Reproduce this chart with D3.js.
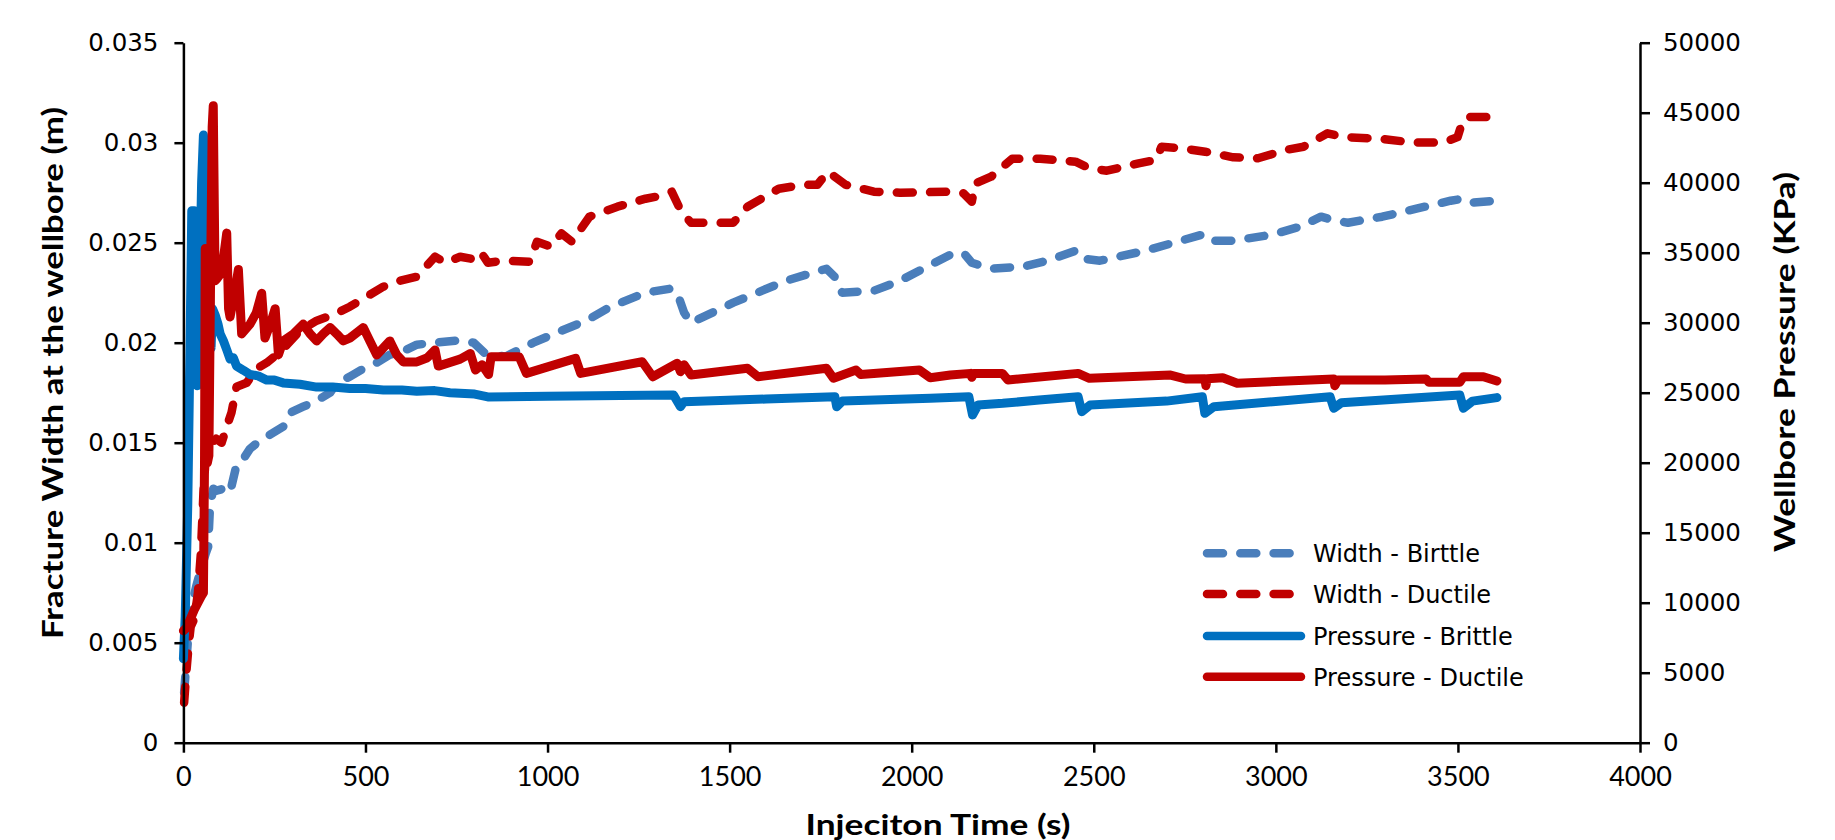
<!DOCTYPE html>
<html>
<head>
<meta charset="utf-8">
<script src="https://cdn.jsdelivr.net/npm/d3@7/dist/d3.min.js"></script>
<style>
  html, body { margin: 0; padding: 0; background: #ffffff; }
  svg { display: block; }
</style>
</head>
<body>
<svg id="chart" width="1835" height="840"></svg>
<script>
// ---------------- DATA ----------------
const xTicks = [0, 500, 1000, 1500, 2000, 2500, 3000, 3500, 4000];
const yLeftTicks = [0, 0.005, 0.01, 0.015, 0.02, 0.025, 0.03, 0.035];
const yRightTicks = [0, 5000, 10000, 15000, 20000, 25000, 30000, 35000, 40000, 45000, 50000];
const seriesNames = ["Width - Birttle", "Width - Ductile", "Pressure - Brittle", "Pressure - Ductile"];

// [time (s), width (m)]
const widthBrittle = [
  [2,0.0025],[8,0.0040],[14,0.0055],[22,0.0068],[35,0.0078],[50,0.0088],[62,0.0095],[68,0.0098],
  [73,0.0118],[82,0.0127],[91,0.0126],[110,0.0127],[128,0.0125],[146,0.0139],[165,0.0142],[183,0.0147],
  [210,0.0151],[238,0.0154],[274,0.0158],[293,0.0165],[329,0.0168],[366,0.0171],[403,0.0175],[421,0.0180],
  [457,0.0183],[494,0.0187],[531,0.0190],[567,0.0194],[595,0.0195],[641,0.0199],[691,0.0200],[749,0.0201],
  [797,0.0200],[826,0.0195],[884,0.0193],[961,0.0200],[1038,0.0206],[1106,0.0211],[1173,0.0218],[1269,0.0225],
  [1337,0.0227],[1356,0.0225],[1375,0.0215],[1394,0.0210],[1510,0.0220],[1655,0.0231],[1766,0.0237],[1794,0.0232],
  [1809,0.0225],[1896,0.0226],[1968,0.0231],[2106,0.0244],[2142,0.0245],[2165,0.0240],[2218,0.0237],[2305,0.0238],
  [2373,0.0241],[2450,0.0246],[2469,0.0242],[2517,0.0241],[2642,0.0246],[2739,0.0251],[2797,0.0254],[2816,0.0251],
  [2883,0.0251],[2989,0.0254],[3066,0.0258],[3124,0.0263],[3163,0.0261],[3198,0.0260],[3292,0.0263],[3386,0.0267],
  [3480,0.0271],[3513,0.0272],[3537,0.0270],[3607,0.0271]
];

// [time (s), width (m)]
const widthDuctile = [
  [2,0.0020],[8,0.0035],[14,0.0048],[20,0.0058],[30,0.0062],[40,0.0075],[48,0.0095],[55,0.0125],
  [62,0.0145],[68,0.0148],[73,0.0149],[90,0.0152],[105,0.0150],[119,0.0158],[132,0.0165],[146,0.0178],
  [174,0.0180],[201,0.0187],[229,0.0190],[256,0.0194],[274,0.0197],[320,0.0206],[366,0.0211],[412,0.0214],
  [457,0.0218],[503,0.0223],[549,0.0228],[595,0.0231],[641,0.0233],[691,0.0243],[720,0.0240],[760,0.0243],
  [790,0.0242],[816,0.02455],[836,0.0240],[880,0.0241],[951,0.02405],[971,0.02505],[1009,0.0248],[1038,0.02547],
  [1067,0.02505],[1115,0.0263],[1192,0.0268],[1269,0.0272],[1298,0.0273],[1341,0.02755],[1366,0.0266],[1394,0.0260],
  [1510,0.0260],[1549,0.0268],[1635,0.0277],[1703,0.0279],[1741,0.0279],[1770,0.02855],[1818,0.0279],[1896,0.02755],
  [1968,0.0275],[2106,0.02755],[2142,0.02747],[2165,0.02705],[2175,0.02797],[2218,0.0283],[2276,0.0292],[2353,0.0292],
  [2450,0.02905],[2488,0.02872],[2536,0.0286],[2623,0.02897],[2671,0.02914],[2686,0.0298],[2739,0.02972],[2806,0.02955],
  [2883,0.02927],[2951,0.02922],[3028,0.02964],[3076,0.0298],[3142,0.03047],[3185,0.03028],[3283,0.0302],[3377,0.03001],
  [3461,0.03001],[3499,0.03028],[3513,0.03109],[3527,0.03128],[3590,0.03128]
];

// [time (s), pressure (KPa)]
const pressureBrittle = [
  [0,6000],[5,9000],[12,17000],[18,28000],[23,38000],[30,38000],[34,30000],[38,25500],[44,32000],[50,40000],
  [55,43400],[60,41000],[66,34000],[72,32100],[76,28200],[80,31000],[88,30500],[95,29900],[101,29200],[110,28700],
  [120,28000],[128,27400],[137,27500],[146,26900],[165,26600],[183,26300],[205,26200],[229,25900],[250,25900],
  [274,25700],[320,25600],[366,25400],[410,25400],[457,25300],[500,25300],[549,25200],[600,25200],[641,25100],
  [690,25150],[732,25000],[800,24900],[836,24700],[1000,24750],[1200,24800],[1346,24840],[1365,24000],[1375,24360],[1600,24550],
  [1789,24710],[1794,24000],[1810,24400],[2051,24600],[2157,24710],[2167,23410],[2182,24120],[2250,24240],[2350,24480],
  [2457,24710],[2467,23640],[2490,24120],[2700,24400],[2798,24710],[2805,23530],[2830,24000],[3149,24710],[3159,23890],
  [3180,24280],[3505,24840],[3515,23890],[3540,24400],[3607,24650]
];

// [time (s), pressure (KPa)]
const pressureDuctile = [
  [0,8000],[9,8220],[30,9500],[50,10500],[55,10700],[58,20000],[60,35300],[63,30000],[66,20000],[70,20500],
  [75,34000],[79,44000],[82,45500],[85,38000],[87,33000],[91,33100],[105,33600],[112,35000],[119,36400],[124,31000],
  [128,30400],[140,32000],[151,33800],[160,29200],[183,29900],[200,30700],[215,32100],[224,28900],[240,30000],
  [252,31000],[261,27700],[274,28700],[302,29200],[329,29900],[348,29200],[366,28700],[384,29200],[403,29650],
  [421,29200],[439,28700],[457,28900],[494,29650],[512,28700],[531,27700],[549,28200],[567,28700],[586,27700],
  [604,27200],[641,27200],[670,27500],[691,28050],[700,26900],[760,27400],[788,27800],[802,26620],[820,27000],
  [838,26300],[845,27570],[922,27570],[942,26380],[1077,27450],[1091,26380],[1260,27210],[1289,26140],[1356,27100],
  [1365,26500],[1375,27000],[1394,26260],[1549,26740],[1578,26140],[1766,26740],[1785,26030],[1847,26620],[1860,26300],
  [2021,26620],[2051,26070],[2106,26260],[2162,26380],[2165,26100],[2170,26380],[2249,26380],[2264,25910],[2457,26380],
  [2488,26030],[2711,26260],[2752,25980],[2805,26000],[2808,25500],[2812,26000],[2854,26070],[2894,25670],[3159,25980],
  [3162,25500],[3170,25900],[3300,25900],[3413,25980],[3420,25750],[3505,25750],[3515,26140],[3570,26140],[3607,25840]
];

// ---------------- LAYOUT ----------------
const plot = { left: 183.4, right: 1640, top: 42.7, bottom: 742.7 };
const colors = { wb: "#4a7ebb", wd: "#c00000", pb: "#0070c0", pd: "#c00000" };

const svg = d3.select("#chart");

const x = d3.scaleLinear().domain([0, 4000]).range([plot.left, plot.right]);
const yL = d3.scaleLinear().domain([0, 0.035]).range([plot.bottom, plot.top]);
const yR = d3.scaleLinear().domain([0, 50000]).range([plot.bottom, plot.top]);

const tickFont = "'DejaVu Sans', sans-serif";
const titleFont = "Lato, 'Open Sans', sans-serif";

// ---- series ----
const lineL = d3.line().x(d => x(d[0])).y(d => yL(d[1]));
const lineR = d3.line().x(d => x(d[0])).y(d => yR(d[1]));

const gSeries = svg.append("g");
const dash = "16 17.3";
gSeries.append("path").datum(widthBrittle).attr("d", lineL)
  .attr("fill", "none").attr("stroke", colors.wb).attr("stroke-width", 8.5)
  .attr("stroke-dasharray", dash).attr("stroke-linecap", "round").attr("stroke-linejoin", "round");
gSeries.append("path").datum(widthDuctile).attr("d", lineL)
  .attr("fill", "none").attr("stroke", colors.wd).attr("stroke-width", 8.5)
  .attr("stroke-dasharray", dash).attr("stroke-linecap", "round").attr("stroke-linejoin", "round");
gSeries.append("path").datum(pressureBrittle).attr("d", lineR)
  .attr("fill", "none").attr("stroke", colors.pb).attr("stroke-width", 9)
  .attr("stroke-linecap", "round").attr("stroke-linejoin", "round");
gSeries.append("path").datum(pressureDuctile).attr("d", lineR)
  .attr("fill", "none").attr("stroke", colors.pd).attr("stroke-width", 9)
  .attr("stroke-linecap", "round").attr("stroke-linejoin", "round");

// ---- axes ----
function styleAxis(g) {
  g.select(".domain").attr("stroke", "#000").attr("stroke-width", 2.5);
  g.selectAll(".tick line").attr("stroke", "#000").attr("stroke-width", 2.5);
}

const xAxis = svg.append("g").attr("transform", `translate(0,${plot.bottom})`)
  .call(d3.axisBottom(x).tickValues(xTicks).tickSize(10).tickSizeOuter(0).tickPadding(14).tickFormat(d3.format("d")));
styleAxis(xAxis);
xAxis.selectAll(".tick text").attr("font-family", titleFont).attr("font-size", 27).attr("fill", "#000");

const yAxisL = svg.append("g").attr("transform", `translate(${plot.left},0)`)
  .call(d3.axisLeft(yL).tickValues(yLeftTicks).tickSize(9).tickSizeOuter(0).tickPadding(16)
    .tickFormat(d => d === 0 ? "0" : String(+d.toFixed(3))));
styleAxis(yAxisL);
yAxisL.selectAll(".tick text").attr("font-family", tickFont).attr("font-size", 24.5).attr("fill", "#000");

const yAxisR = svg.append("g").attr("transform", `translate(${plot.right},0)`)
  .call(d3.axisRight(yR).tickValues(yRightTicks).tickSize(10).tickSizeOuter(0).tickPadding(13).tickFormat(d3.format("d")));
styleAxis(yAxisR);
yAxisR.selectAll(".tick text").attr("font-family", tickFont).attr("font-size", 24.5).attr("fill", "#000");

// ---- axis titles ----
svg.append("text").attr("x", 938).attr("y", 835).attr("text-anchor", "middle")
  .attr("font-family", titleFont).attr("font-weight", "bold").attr("font-size", 28)
  .attr("textLength", 265).attr("lengthAdjust", "spacingAndGlyphs")
  .text("Injeciton Time (s)");

svg.append("text").attr("transform", "translate(63,373) rotate(-90)").attr("text-anchor", "middle")
  .attr("font-family", titleFont).attr("font-weight", "bold").attr("font-size", 28)
  .attr("textLength", 532).attr("lengthAdjust", "spacingAndGlyphs")
  .text("Fracture Width at the wellbore (m)");

svg.append("text").attr("transform", "translate(1795,362) rotate(-90)").attr("text-anchor", "middle")
  .attr("font-family", titleFont).attr("font-weight", "bold").attr("font-size", 28)
  .attr("textLength", 380).attr("lengthAdjust", "spacingAndGlyphs")
  .text("Wellbore Pressure (KPa)");

// ---- legend ----
const legendRows = [
  { name: seriesNames[0], color: colors.wb, dashed: true, y: 553.3 },
  { name: seriesNames[1], color: colors.wd, dashed: true, y: 594 },
  { name: seriesNames[2], color: colors.pb, dashed: false, y: 636 },
  { name: seriesNames[3], color: colors.pd, dashed: false, y: 676.7 }
];
const gLeg = svg.append("g");
legendRows.forEach(r => {
  gLeg.append("line").attr("x1", 1207).attr("x2", 1301).attr("y1", r.y).attr("y2", r.y)
    .attr("stroke", r.color).attr("stroke-width", 8.5).attr("stroke-linecap", "round")
    .attr("stroke-dasharray", r.dashed ? dash : null);
  gLeg.append("text").attr("x", 1313).attr("y", r.y + 9)
    .attr("font-family", tickFont).attr("font-size", 24).attr("fill", "#000")
    .text(r.name);
});
</script>
</body>
</html>
